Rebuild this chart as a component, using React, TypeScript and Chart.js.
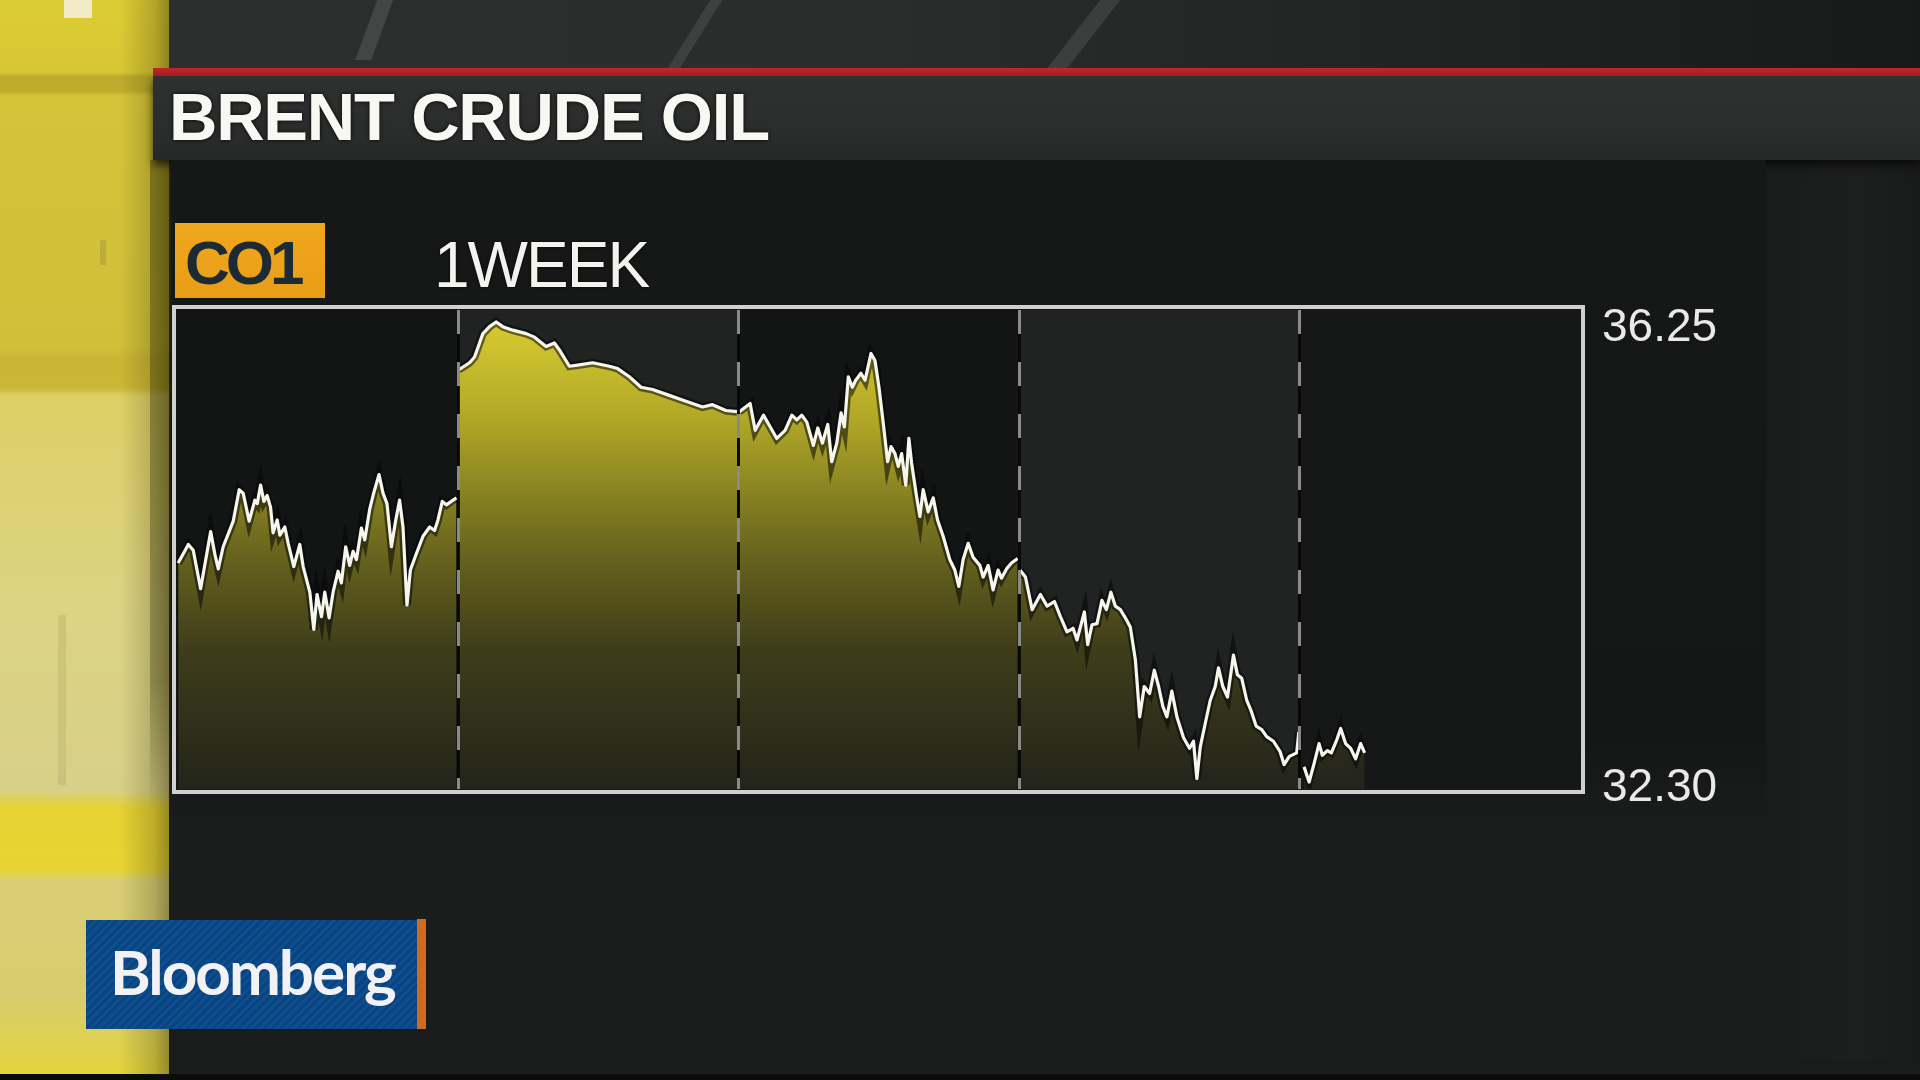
import React, { useEffect, useRef } from "react";
import { Chart, registerables } from "chart.js";

Chart.register(...registerables);

// ---- DATA ----
// Each trading day: hours into the session (0-24) and Brent price (USD)
const day1Hours = [0.1, 0.97, 1.39, 2.02, 2.88, 3.25, 3.53, 3.95, 4.81, 5.32, 5.66, 6.17, 6.66, 6.86, 7.15, 7.43, 7.71, 8.0, 8.22, 8.57, 8.8, 9.22, 9.51, 9.99, 10.5, 10.79, 11.36, 11.7, 11.98, 12.36, 12.64, 13.01, 13.35, 13.78, 14.06, 14.43, 14.77, 15.06, 15.35, 15.77, 16.06, 16.48, 16.82, 17.28, 17.62, 17.96, 18.34, 18.71, 19.04, 19.33, 19.67, 19.96, 20.47, 21.04, 21.61, 22.03, 22.32, 22.69, 23.04, 23.46, 23.9];
const day1Prices = [34.18, 34.34, 34.29, 33.96, 34.45, 34.25, 34.13, 34.32, 34.54, 34.81, 34.78, 34.54, 34.72, 34.69, 34.85, 34.71, 34.76, 34.66, 34.44, 34.55, 34.42, 34.49, 34.35, 34.15, 34.34, 34.15, 33.93, 33.61, 33.91, 33.72, 33.93, 33.71, 33.93, 34.11, 34.01, 34.32, 34.16, 34.28, 34.21, 34.48, 34.38, 34.64, 34.78, 34.94, 34.78, 34.69, 34.32, 34.55, 34.72, 34.49, 33.82, 34.12, 34.26, 34.41, 34.49, 34.46, 34.55, 34.71, 34.68, 34.71, 34.74];

const day2Hours = [0.1, 1.02, 1.45, 2.16, 2.73, 3.3, 3.87, 4.72, 5.87, 6.58, 7.57, 8.28, 8.71, 9.56, 10.27, 11.55, 12.98, 13.69, 14.69, 15.69, 16.68, 18.1, 19.53, 20.95, 21.8, 22.95, 23.9];
const day2Prices = [35.84, 35.9, 35.95, 36.15, 36.21, 36.25, 36.21, 36.18, 36.15, 36.12, 36.04, 36.07, 36.01, 35.87, 35.88, 35.9, 35.87, 35.85, 35.78, 35.69, 35.67, 35.62, 35.57, 35.52, 35.54, 35.49, 35.48];

const day3Hours = [0.1, 1.02, 1.45, 2.16, 2.73, 3.3, 4.01, 4.59, 5.01, 5.44, 5.87, 6.43, 6.81, 7.2, 7.66, 8.0, 8.43, 8.8, 9.08, 9.42, 9.76, 10.05, 10.5, 10.85, 11.36, 11.7, 12.04, 12.41, 12.78, 13.07, 13.41, 13.69, 13.98, 14.33, 14.6, 14.83, 15.26, 15.54, 15.82, 16.25, 16.68, 17.05, 17.53, 18.1, 18.53, 18.87, 19.24, 19.67, 20.09, 20.67, 20.95, 21.38, 21.8, 22.23, 22.52, 22.95, 23.37, 23.9];
const day3Prices = [35.48, 35.55, 35.32, 35.45, 35.35, 35.25, 35.32, 35.45, 35.41, 35.45, 35.39, 35.19, 35.34, 35.21, 35.37, 35.05, 35.21, 35.47, 35.35, 35.78, 35.69, 35.75, 35.81, 35.75, 35.98, 35.92, 35.69, 35.38, 35.05, 35.18, 35.12, 35.01, 35.12, 34.85, 35.25, 35.04, 34.75, 34.58, 34.81, 34.62, 34.74, 34.55, 34.41, 34.21, 34.12, 33.98, 34.21, 34.35, 34.23, 34.16, 34.06, 34.16, 33.95, 34.12, 34.05, 34.13, 34.18, 34.22];

const day4Hours = [0.1, 0.57, 1.14, 1.85, 2.42, 3.05, 3.56, 4.12, 4.64, 4.98, 5.61, 5.89, 6.26, 6.69, 7.11, 7.49, 7.88, 8.26, 8.69, 9.11, 9.54, 9.97, 10.34, 10.73, 11.19, 11.59, 11.96, 12.32, 12.67, 13.09, 13.52, 14.09, 14.6, 14.94, 15.23, 15.52, 15.94, 16.37, 16.8, 17.08, 17.45, 17.85, 18.36, 18.7, 19.07, 19.5, 19.84, 20.3, 20.78, 21.2, 21.78, 22.35, 22.69, 23.14, 23.77, 23.95];
const day4Prices = [34.12, 34.06, 33.78, 33.91, 33.81, 33.85, 33.72, 33.59, 33.62, 33.52, 33.76, 33.48, 33.65, 33.66, 33.86, 33.78, 33.93, 33.81, 33.78, 33.71, 33.63, 33.35, 32.86, 33.12, 33.06, 33.26, 33.12, 32.95, 32.86, 33.08, 32.86, 32.68, 32.59, 32.65, 32.33, 32.6, 32.8, 33.0, 33.12, 33.28, 33.12, 33.03, 33.39, 33.22, 33.19, 33.0, 32.92, 32.78, 32.75, 32.69, 32.65, 32.56, 32.45, 32.52, 32.55, 32.73];

const day5Hours = [0.4, 0.83, 1.26, 1.68, 1.96, 2.39, 2.73, 3.19, 3.53, 3.95, 4.38, 4.81, 5.24, 5.58];
const day5Prices = [32.43, 32.3, 32.46, 32.63, 32.53, 32.57, 32.55, 32.66, 32.76, 32.63, 32.59, 32.5, 32.63, 32.55];

const dayCount = 5;
const yTickValues = [32.3, 36.25];
const yMin = 32.24;
const yMax = 36.353;

const titleText = "BRENT CRUDE OIL";
const tickerText = "CO1";
const periodText = "1WEEK";

function toPoints(day: number, hours: number[], prices: number[]) {
  const n = Math.min(hours.length, prices.length);
  const pts: { x: number; y: number }[] = [];
  for (let i = 0; i < n; i++) pts.push({ x: day + hours[i] / 24, y: prices[i] });
  return pts;
}

export default function App() {
  const canvasRef = useRef<HTMLCanvasElement>(null);

  useEffect(() => {
    const canvas = canvasRef.current;
    if (!canvas) return;

    const days = [
      toPoints(0, day1Hours, day1Prices),
      toPoints(1, day2Hours, day2Prices),
      toPoints(2, day3Hours, day3Prices),
      toPoints(3, day4Hours, day4Prices),
      toPoints(4, day5Hours, day5Prices),
    ];

    const columnShades = ["#131514", "#212322", "#131514", "#212322", "#161817"];

    const gradientFill = (context: any) => {
      const chart = context.chart;
      const { ctx, chartArea } = chart;
      if (!chartArea) return "rgba(170,160,40,0.8)";
      const g = ctx.createLinearGradient(0, chartArea.top, 0, chartArea.bottom);
      g.addColorStop(0, "#dccf31");
      g.addColorStop(0.23, "#b0a727");
      g.addColorStop(0.345, "#918b23");
      g.addColorStop(0.54, "#615d1d");
      g.addColorStop(0.71, "#3e3d1a");
      g.addColorStop(1, "#23241b");
      return g;
    };

    const datasets: any[] = [];
    days.forEach((pts) => {
      datasets.push({
        data: pts,
        fill: "start",
        backgroundColor: gradientFill,
        borderColor: "rgba(6,7,6,0.55)",
        borderWidth: 8,
        pointRadius: 0,
        tension: 0,
        order: 2,
      });
      datasets.push({
        data: pts,
        fill: false,
        borderColor: "#f6f6ee",
        borderWidth: 3.2,
        pointRadius: 0,
        tension: 0,
        borderJoinStyle: "round",
        order: 1,
      });
    });

    const framePlugin = {
      id: "framePlugin",
      beforeDatasetsDraw(chart: any) {
        const { ctx, chartArea: a, scales } = chart;
        const x = scales.x;
        ctx.save();
        for (let d = 0; d < dayCount; d++) {
          const l = x.getPixelForValue(d);
          const r = x.getPixelForValue(d + 1);
          ctx.fillStyle = columnShades[d];
          ctx.fillRect(l, a.top, r - l, a.bottom - a.top);
        }
        ctx.restore();
      },
      afterDatasetsDraw(chart: any) {
        const { ctx, chartArea: a, scales } = chart;
        const x = scales.x;
        ctx.save();
        for (let d = 1; d < dayCount; d++) {
          const px = Math.round(x.getPixelForValue(d)) + 0.5;
          ctx.lineWidth = 3;
          ctx.setLineDash([]);
          ctx.strokeStyle = "rgba(5,5,5,0.85)";
          ctx.beginPath();
          ctx.moveTo(px, a.top);
          ctx.lineTo(px, a.bottom);
          ctx.stroke();
          ctx.setLineDash([24, 28]);
          ctx.strokeStyle = "#8a8b89";
          ctx.beginPath();
          ctx.moveTo(px, a.top);
          ctx.lineTo(px, a.bottom);
          ctx.stroke();
        }
        ctx.setLineDash([]);
        ctx.lineWidth = 4;
        ctx.strokeStyle = "#d0d0ce";
        ctx.strokeRect(a.left - 3, a.top - 3, a.right - a.left + 6, a.bottom - a.top + 6);
        ctx.restore();
      },
    };

    const chart = new Chart(canvas, {
      type: "line",
      data: { datasets },
      options: {
        animation: false,
        responsive: false,
        maintainAspectRatio: false,
        layout: { padding: { left: 27, top: 20, bottom: 31, right: 0 } },
        plugins: { legend: { display: false }, tooltip: { enabled: false } },
        scales: {
          x: { type: "linear", min: 0, max: dayCount, display: false },
          y: {
            type: "linear",
            position: "right",
            min: yMin,
            max: yMax,
            grid: { display: false, drawTicks: false },
            border: { display: false },
            afterBuildTicks: (s: any) => {
              s.ticks = yTickValues.map((v) => ({ value: v }));
            },
            afterFit: (s: any) => {
              s.width = 190;
              s.paddingTop = 0;
              s.paddingBottom = 0;
            },
            ticks: {
              autoSkip: false,
              padding: 22,
              labelOffset: 6,
              color: "#e9e9e7",
              font: { family: "'Liberation Sans', Arial, sans-serif", size: 46 },
              callback: (v: any) => Number(v).toFixed(2),
            },
          },
        },
      },
      plugins: [framePlugin],
    });

    return () => chart.destroy();
  }, []);

  const abs = (s: React.CSSProperties): React.CSSProperties => ({ position: "absolute", ...s });

  return (
    <div
      style={{
        position: "fixed",
        left: 0,
        top: 0,
        width: 1920,
        height: 1080,
        overflow: "hidden",
        background: "linear-gradient(180deg, #202221 0%, #1c1e1d 60%, #1a1c1b 100%)",
      }}
    >
      {/* top region */}
      <div style={abs({ left: 0, top: 0, width: 1920, height: 70, background: "linear-gradient(90deg, #2d2f2e 0%, #2b2d2c 45%, #232524 70%, #181a19 100%)" })} />
      <div style={abs({ left: 368, top: -10, width: 16, height: 70, background: "rgba(110,114,112,0.35)", transform: "skewX(-20deg)" })} />
      <div style={abs({ left: 690, top: -10, width: 12, height: 85, background: "rgba(110,114,112,0.28)", transform: "skewX(-32deg)" })} />
      <div style={abs({ left: 1075, top: -10, width: 20, height: 85, background: "rgba(110,114,112,0.3)", transform: "skewX(-38deg)" })} />

      {/* right side panel region */}
      <div style={abs({ left: 1766, top: 160, width: 154, height: 900, background: "linear-gradient(90deg, #1a1c1b 0%, #1d1f1e 60%, #191b1a 100%)" })} />

      {/* yellow strip */}
      <div
        style={abs({
          left: 0,
          top: 0,
          width: 169,
          height: 1074,
          background:
            "linear-gradient(180deg, #dccc34 0px, #d8c733 72px, #bcab2b 77px, #bead2c 91px, #d4c438 96px, #d0bf39 348px, #cab533 358px, #ccb835 388px, #dcd066 396px, #dcd382 600px, #d8d088 790px, #e6d233 808px, #e8d431 868px, #d9ce76 882px, #d8cd6c 1000px, #e3d43b 1074px)",
        })}
      />
      <div style={abs({ left: 64, top: 0, width: 28, height: 18, background: "#f2ecc6" })} />
      <div style={abs({ left: 58, top: 615, width: 8, height: 170, background: "rgba(150,140,80,0.2)" })} />
      <div style={abs({ left: 100, top: 240, width: 6, height: 25, background: "rgba(150,140,60,0.35)" })} />
      <div style={abs({ left: 120, top: 0, width: 49, height: 1074, background: "linear-gradient(90deg, rgba(0,0,0,0) 0%, rgba(40,35,0,0.22) 70%, rgba(30,28,0,0.4) 100%)" })} />
      <div style={abs({ left: 150, top: 160, width: 21, height: 650, background: "linear-gradient(180deg, rgba(40,38,0,0.4) 0%, rgba(40,38,0,0.3) 80%, rgba(40,38,0,0) 100%)" })} />

      {/* red rule + title bar */}
      <div style={abs({ left: 153, top: 68, width: 1767, height: 8, background: "linear-gradient(180deg, #c2262c, #a61d24)" })} />
      <div
        style={abs({
          left: 153,
          top: 76,
          width: 1767,
          height: 84,
          background: "linear-gradient(180deg, #2e3130 0%, #2a2d2c 70%, #252827 100%)",
          boxShadow: "0 5px 8px rgba(0,0,0,0.65)",
        })}
      />
      <div
        style={abs({
          left: 169,
          top: 83,
          fontFamily: "'Liberation Sans', Arial, sans-serif",
          fontWeight: 700,
          fontSize: 67,
          lineHeight: "67px",
          letterSpacing: "-1.2px",
          color: "#f7f7f3",
          whiteSpace: "nowrap",
          textShadow: "0 0 4px rgba(0,0,0,0.9)",
        })}
      >
        {titleText}
      </div>

      {/* chart panel */}
      <div style={abs({ left: 171, top: 160, width: 1595, height: 680, background: "linear-gradient(180deg, #161817 0%, #151716 85%, rgba(24,26,25,0) 100%)" })} />

      {/* ticker box */}
      <div style={abs({ left: 175, top: 223, width: 150, height: 75, background: "linear-gradient(180deg, #efa71e, #e99d17)" })} />
      <div
        style={abs({
          left: 185,
          top: 232,
          fontFamily: "'Liberation Sans', Arial, sans-serif",
          fontWeight: 700,
          fontSize: 62,
          lineHeight: "62px",
          letterSpacing: "-4px",
          color: "#1c2a33",
          whiteSpace: "nowrap",
        })}
      >
        {tickerText}
      </div>
      <div
        style={abs({
          left: 434,
          top: 233,
          fontFamily: "'Liberation Sans', Arial, sans-serif",
          fontWeight: 400,
          fontSize: 64,
          lineHeight: "64px",
          letterSpacing: "-2px",
          color: "#f2f2ef",
          whiteSpace: "nowrap",
          textShadow: "0 0 3px rgba(0,0,0,0.9)",
        })}
      >
        {periodText}
      </div>

      {/* chart */}
      <div style={abs({ left: 150, top: 290, width: 1620, height: 530 })}>
        <canvas ref={canvasRef} width={1620} height={530} style={{ width: 1620, height: 530, display: "block" }} />
      </div>

      {/* Bloomberg logo */}
      <div
        style={abs({
          left: 86,
          top: 920,
          width: 331,
          height: 109,
          background: "repeating-linear-gradient(135deg, #0e4d8f 0px, #0e4d8f 3px, #0a447f 3px, #0a447f 6px)",
        })}
      />
      <div style={abs({ left: 417, top: 919, width: 9, height: 110, background: "#cf6a1f" })} />
      <div
        style={abs({
          left: 110,
          top: 940,
          fontFamily: "Lato, 'Open Sans', sans-serif",
          fontWeight: 700,
          fontSize: 62,
          lineHeight: "62px",
          letterSpacing: "-2px",
          color: "#f2f2f4",
          whiteSpace: "nowrap",
        })}
      >
        Bloomberg
      </div>

      {/* bottom edge */}
      <div style={abs({ left: 0, top: 1074, width: 1920, height: 6, background: "#0b0b0b" })} />
    </div>
  );
}
